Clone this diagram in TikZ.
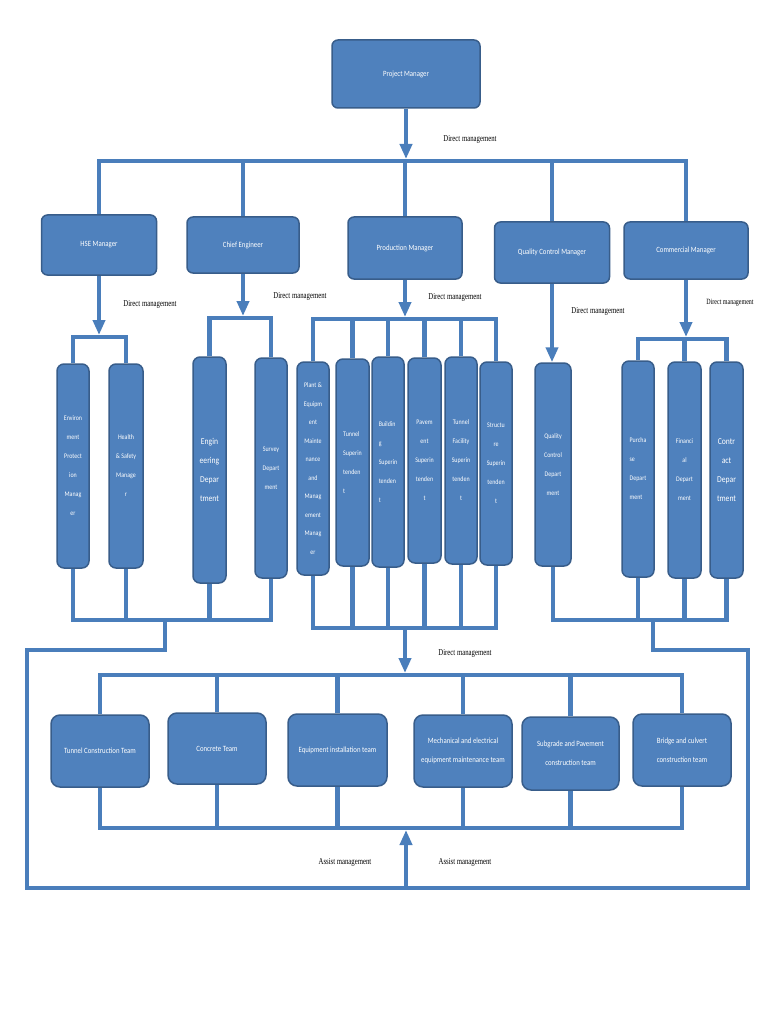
\documentclass[tikz,border=0pt]{standalone}
\usepackage{fontspec}
\newfontfamily\boxfont{Carlito}[FakeStretch=0.85]
\newfontfamily\lblfont{Liberation Serif}[FakeStretch=0.75]
\usetikzlibrary{arrows.meta}
\definecolor{boxfill}{HTML}{4F81BD}
\definecolor{boxline}{HTML}{385D8A}
\definecolor{conn}{HTML}{4A7EBB}
\tikzset{
  orgbox/.style={draw=boxline, fill=boxfill, line width=1.5pt, rounded corners=6pt, text=white, inner sep=0pt},
  mgr/.style={orgbox, align=center, font=\boxfont\fontsize{8}{10}\selectfont},
  dept/.style={orgbox, rounded corners=7pt, align=center, font=\boxfont\fontsize{7}{19}\selectfont},
  deptl/.style={dept, align=left},
  bigdept/.style={dept, font=\boxfont\fontsize{9}{19}\selectfont},
  team/.style={orgbox, rounded corners=9pt, align=center, font=\boxfont\fontsize{8}{19}\selectfont},
  wire/.style={draw=conn, line width=4.5pt},
  arr/.style={wire, -{Triangle[length=15pt,width=12pt]}},
  lbl/.style={font=\lblfont\fontsize{9}{10}\selectfont, text=black, inner sep=0pt},
}
\begin{document}
\begin{tikzpicture}[x=1pt,y=-1pt]
\useasboundingbox[fill=white] (0,0) rectangle (768,1024);

% ---------- managers ----------
\node[mgr, minimum width=148pt, minimum height=68pt] (pm) at (406,74) {Project Manager};
\node[mgr, minimum width=115pt, minimum height=60pt] (hse) at (99,245) {HSE Manager};
\node[mgr, minimum width=112pt, minimum height=56pt] (chief) at (243,245) {Chief Engineer};
\node[mgr, minimum width=114pt, minimum height=62pt] (prod) at (405,248) {Production Manager};
\node[mgr, minimum width=115pt, minimum height=61pt] (qcm) at (552,252.5) {Quality Control Manager};
\node[mgr, minimum width=124pt, minimum height=57pt] (com) at (686,250.5) {Commercial Manager};

% ---------- departments ----------
\node[dept, minimum width=32pt, minimum height=204pt] (env) at (73,466) {Environ\\ment\\Protect\\ion\\Manag\\er};
\node[dept, minimum width=34pt, minimum height=204pt] (hlth) at (126,466) {Health\\\& Safety\\Manage\\r};
\node[bigdept, minimum width=33pt, minimum height=226pt] (eng) at (209.5,470) {Engin\\eering\\Depar\\tment};
\node[dept, minimum width=32pt, minimum height=220pt] (surv) at (271,468) {Survey\\Depart\\ment};
\node[dept, minimum width=32pt, minimum height=213pt, font=\boxfont\fontsize{7}{18.5}\selectfont] (plant) at (313,468.5) {Plant \&\\Equipm\\ent\\Mainte\\nance\\and\\Manag\\ement\\Manag\\er};
\node[deptl, minimum width=33pt, minimum height=207pt] (tsup) at (352.5,462.5) {Tunnel\\Superin\\tenden\\t};
\node[deptl, minimum width=32pt, minimum height=210pt] (bld) at (388,462) {Buildin\\g\\Superin\\tenden\\t};
\node[dept, minimum width=33pt, minimum height=205pt] (pav) at (424.5,460.5) {Pavem\\ent\\Superin\\tenden\\t};
\node[dept, minimum width=32pt, minimum height=207pt] (tfac) at (461,460.5) {Tunnel\\Facility\\Superin\\tenden\\t};
\node[dept, minimum width=32pt, minimum height=203pt] (strc) at (496,463.5) {Structu\\re\\Superin\\tenden\\t};
\node[dept, minimum width=36pt, minimum height=203pt] (qcd) at (553,464.5) {Quality\\Control\\Depart\\ment};
\node[deptl, minimum width=32pt, minimum height=216pt] (pur) at (638,469) {Purcha\\se\\Depart\\ment};
\node[dept, minimum width=33pt, minimum height=216pt] (fin) at (684.5,470) {Financi\\al\\Depart\\ment};
\node[bigdept, minimum width=33pt, minimum height=216pt] (ctr) at (726.5,470) {Contr\\act\\Depar\\tment};

% ---------- teams ----------
\node[team, minimum width=98pt, minimum height=72pt] (t1) at (100,751) {Tunnel Construction Team};
\node[team, minimum width=98pt, minimum height=71pt] (t2) at (217,748.5) {Concrete Team};
\node[team, minimum width=99pt, minimum height=72pt] (t3) at (337.5,750) {Equipment installation team};
\node[team, minimum width=98pt, minimum height=72pt] (t4) at (463,751) {Mechanical and electrical\\equipment maintenance team};
\node[team, minimum width=97pt, minimum height=73pt] (t5) at (570.5,753.5) {Subgrade and Pavement\\construction team};
\node[team, minimum width=98pt, minimum height=72pt] (t6) at (682,750) {Bridge and culvert\\construction team};

% ---------- labels ----------
\node[lbl] (l1) at (470,139) {Direct management};
\node[lbl] (l2) at (150,304) {Direct management};
\node[lbl] (l3) at (300,296) {Direct management};
\node[lbl] (l4) at (455,297) {Direct management};
\node[lbl] (l5) at (598,311) {Direct management};
\node[lbl, font=\lblfont\fontsize{8}{9}\selectfont] (l6) at (730,303) {Direct management};
\node[lbl] (l7) at (465,653) {Direct management};
\node[lbl] (l8) at (345,862) {Assist management};
\node[lbl] (l9) at (465,862) {Assist management};

% ---------- junction coordinates ----------
\coordinate (b1) at (406,161);
\coordinate (b1tip) at (406,159);
\coordinate (hb) at (99,337);
\coordinate (hbtip) at (99,335);
\coordinate (cb) at (243,318);
\coordinate (cbtip) at (243,316);
\coordinate (pb) at (405,319);
\coordinate (pbtip) at (405,317);
\coordinate (mb) at (686,339);
\coordinate (mbtip) at (686,337);
\coordinate (lb) at (165,620);
\coordinate (mlb) at (405,628);
\coordinate (rb) at (653,620);
\coordinate (tb) at (405,675);
\coordinate (tbtip) at (405,673);
\coordinate (bb) at (406,828);
\coordinate (bbtip) at (406,830);
\coordinate (la) at (165,650);
\coordinate (lc) at (27,650);
\coordinate (ld) at (27,888);
\coordinate (bm) at (406,888);
\coordinate (rd) at (748,888);
\coordinate (rc) at (748,650);
\coordinate (ra) at (653,650);

% ---------- top level ----------
\draw[arr] (pm.south) -- (b1tip);
\draw[wire] (hse.north) -- (hse.north |- b1) -- (com.north |- b1) -- (com.north);
\draw[wire] (chief.north) -- (chief.north |- b1);
\draw[wire] (prod.north) -- (prod.north |- b1);
\draw[wire] (qcm.north) -- (qcm.north |- b1);

% ---------- HSE ----------
\draw[arr] (hse.south) -- (hse.south |- hbtip);
\draw[wire] (env.north) -- (env.north |- hb) -- (hlth.north |- hb) -- (hlth.north);
% ---------- Chief ----------
\draw[arr] (chief.south) -- (chief.south |- cbtip);
\draw[wire] (eng.north) -- (eng.north |- cb) -- (surv.north |- cb) -- (surv.north);
% ---------- Production ----------
\draw[arr] (prod.south) -- (prod.south |- pbtip);
\draw[wire] (plant.north) -- (plant.north |- pb) -- (strc.north |- pb) -- (strc.north);
\foreach \n in {tsup,bld,pav,tfac} \draw[wire] (\n.north) -- (\n.north |- pb);
% ---------- QC ----------
\draw[arr] (qcm.south) -- (qcm.south |- qcd.north);
% ---------- Commercial ----------
\draw[arr] (com.south) -- (com.south |- mbtip);
\draw[wire] (pur.north) -- (pur.north |- mb) -- (ctr.north |- mb) -- (ctr.north);
\draw[wire] (fin.north) -- (fin.north |- mb);

% ---------- lower bars ----------
\draw[wire] (env.south) -- (env.south |- lb) -- (surv.south |- lb) -- (surv.south);
\foreach \n in {hlth,eng} \draw[wire] (\n.south) -- (\n.south |- lb);
\draw[wire] (plant.south) -- (plant.south |- mlb) -- (strc.south |- mlb) -- (strc.south);
\foreach \n in {tsup,bld,pav,tfac} \draw[wire] (\n.south) -- (\n.south |- mlb);
\draw[wire] (qcd.south) -- (qcd.south |- rb) -- (ctr.south |- rb) -- (ctr.south);
\foreach \n in {pur,fin} \draw[wire] (\n.south) -- (\n.south |- rb);

% ---------- outer assist loop ----------
\draw[wire] (lb) -- (la) -- (lc) -- (ld) -- (rd) -- (rc) -- (ra) -- (rb);

% ---------- teams ----------
\draw[arr] (mlb) -- (tbtip);
\draw[wire] (t1.north) -- (t1.north |- tb) -- (t6.north |- tb) -- (t6.north);
\foreach \n in {t2,t3,t4,t5} \draw[wire] (\n.north) -- (\n.north |- tb);
\draw[wire] (t1.south) -- (t1.south |- bb) -- (t6.south |- bb) -- (t6.south);
\foreach \n in {t2,t3,t4,t5} \draw[wire] (\n.south) -- (\n.south |- bb);
\draw[arr] (bm) -- (bbtip);
\end{tikzpicture}
\end{document}
